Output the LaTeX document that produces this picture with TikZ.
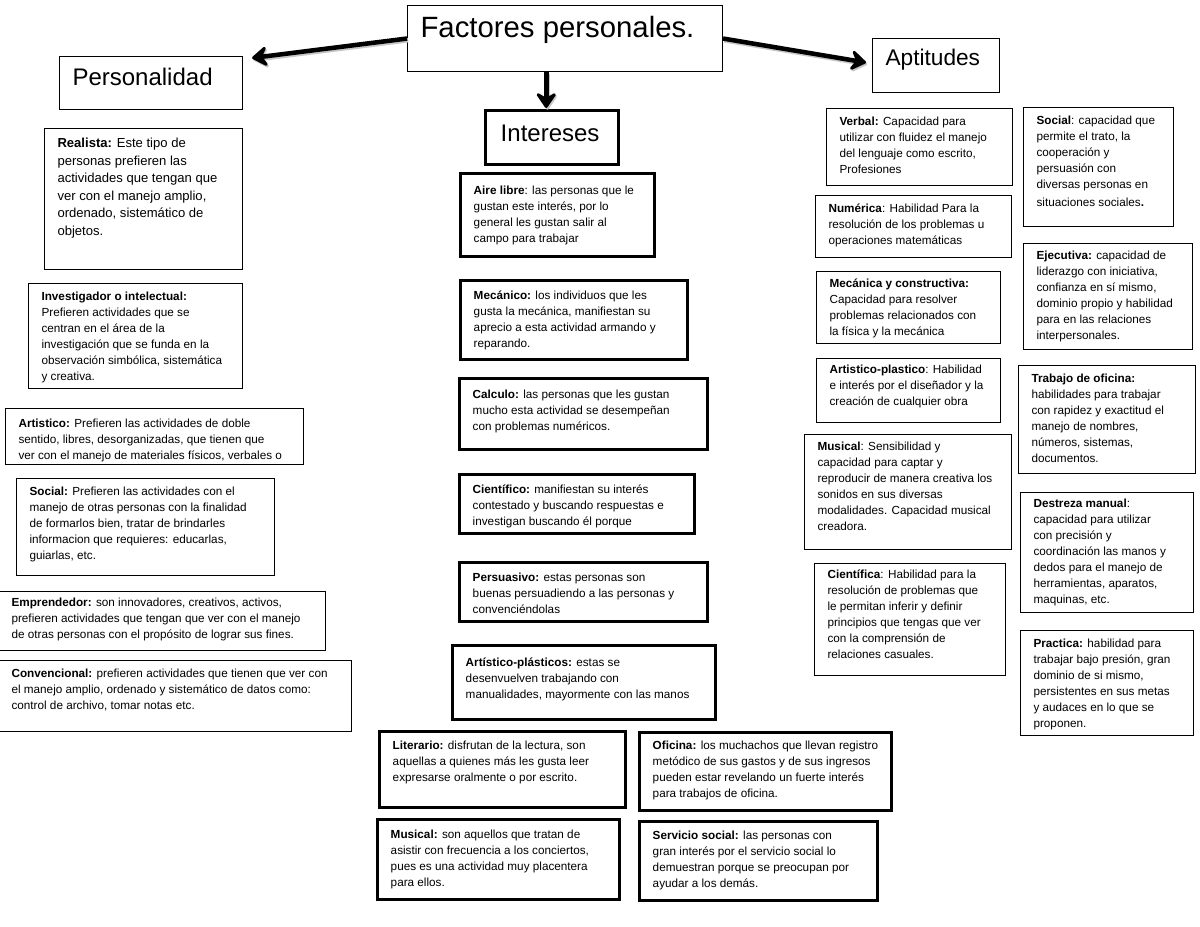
\documentclass[tikz,border=0pt]{standalone}
\usepackage{fontspec}
\setmainfont{Liberation Sans}
\usetikzlibrary{arrows.meta,calc}
\newlength\bxw \newlength\bxh \newlength\bxb
\newcommand\descfont{\fontsize{8.8}{12}\selectfont}
\newcommand\dbox[8][thinb]{%
  \pgfmathsetlength{\bxw}{#5*0.75pt}%
  \pgfmathsetlength{\bxh}{#6*0.75pt}%
  \pgfmathsetlength{\bxb}{#7*0.75pt}%
  \node[#1,anchor=north west,inner sep=0pt] (#2) at (#3,#4) {\begin{minipage}[c][\bxh][t]{\bxw}\rule{0pt}{\bxb}\hspace*{9.75pt}\begin{tabular}[t]{@{}l@{}}#8\end{tabular}\end{minipage}};}
\tikzset{
  thinb/.style={draw, line width=0.8pt, font=\descfont},
  thickb/.style={draw, line width=2.6pt, font=\descfont},
  realb/.style={thinb, font=\fontsize{9.8}{13.2}\selectfont},
  titleb/.style={draw, line width=0.8pt, font=\fontsize{#1}{#1}\selectfont},
  titlethick/.style={draw, line width=2.6pt, font=\fontsize{#1}{#1}\selectfont},
  bigarrow/.style={line width=3.4pt, -{Stealth[length=14pt,width=19pt,inset=5.5pt,round]},
    preaction={draw=black!22, line width=3.4pt, transform canvas={shift={(0.9pt,-1.3pt)}}}}
}
\begin{document}
\begin{tikzpicture}[x=0.75pt,y=-0.75pt]
\useasboundingbox (0,0) rectangle (1200,927);
% titles
\dbox[titleb=22]{fact}{407}{5}{315}{66}{32}{Factores personales.}
\dbox[titleb=18]{pers}{59}{56}{183}{53}{29}{Personalidad}
\dbox[titleb=17]{apt}{872}{38}{127}{54}{27}{Aptitudes}
\dbox[titlethick=18]{int}{484}{109}{133}{54}{31}{\hspace*{1.5pt}Intereses}
% arrows
\coordinate (pin) at ($(pers.north east)+(9,2)$);
\coordinate (ain) at ($(apt.west)+(-6,-3)$);
\coordinate (intin) at ($(int.north)+(-6,-1)$);
\draw[bigarrow] (fact.west) -- (pin);
\draw[bigarrow] (fact.east) -- (ain);
\draw[bigarrow] (intin |- fact.south) -- (intin);
% left column
\dbox[realb]{real}{44}{128}{198}{141}{19}{\textbf{Realista:} Este tipo de\\ personas prefieren las\\ actividades que tengan que\\ ver con el manejo amplio,\\ ordenado, sistemático de\\ objetos.}
\dbox{inv}{28}{283}{214}{105}{17}{\textbf{Investigador o intelectual:}\\ Prefieren actividades que se\\ centran en el área de la\\ investigación que se funda en la\\ observación simbólica, sistemática\\ y creativa.}
\dbox{art}{5}{408}{298}{56}{19}{\textbf{Artistico:} Prefieren las actividades de doble\\ sentido, libres, desorganizadas, que tienen que\\ ver con el manejo de materiales físicos, verbales o}
\dbox{soc}{16}{478}{258}{97}{17}{\textbf{Social:} Prefieren las actividades con el\\ manejo de otras personas con la finalidad\\ de formarlos bien, tratar de brindarles\\ informacion que requieres: educarlas,\\ guiarlas, etc.}
\dbox{emp}{-2}{591}{327}{59}{15}{\textbf{Emprendedor:} son innovadores, creativos, activos,\\ prefieren actividades que tengan que ver con el manejo\\ de otras personas con el propósito de lograr sus fines.}
\dbox{conv}{-2}{660}{353}{71}{17}{\textbf{Convencional:} prefieren actividades que tienen que ver con\\ el manejo amplio, ordenado y sistemático de datos como:\\ control de archivo, tomar notas etc.}
% middle column
\dbox[thickb]{aire}{459}{172}{194}{83}{21}{\textbf{Aire libre}: las personas que le\\ gustan este interés, por lo\\ general les gustan salir al\\ campo para trabajar}
\dbox[thickb]{mec}{459}{279}{227}{79}{19}{\textbf{Mecánico:} los individuos que les\\ gusta la mecánica, manifiestan su\\ aprecio a esta actividad armando y\\ reparando.}
\dbox[thickb]{calc}{458}{377}{248}{71}{20}{\textbf{Calculo:} las personas que les gustan\\ mucho esta actividad se desempeñan\\ con problemas numéricos.}
\dbox[thickb]{cien}{458}{473}{235}{59}{19}{\textbf{Científico:} manifiestan su interés\\ contestado y buscando respuestas e\\ investigan buscando él porque}
\dbox[thickb]{pers2}{458}{561}{248}{59}{19}{\textbf{Persuasivo:} estas personas son\\ buenas persuadiendo a las personas y\\ convenciéndolas}
\dbox[thickb]{artp}{451}{644}{263}{74}{21}{\textbf{Artístico-plásticos:} estas se\\ desenvuelven trabajando con\\ manualidades, mayormente con las manos}
\dbox[thickb]{lit}{378}{730}{246}{76}{18}{\textbf{Literario:} disfrutan de la lectura, son\\ aquellas a quienes más les gusta leer\\ expresarse oralmente o por escrito.}
\dbox[thickb]{ofi}{638}{731}{252}{78}{17}{\textbf{Oficina:} los muchachos que llevan registro\\ metódico de sus gastos y de sus ingresos\\ pueden estar revelando un fuerte interés\\ para trabajos de oficina.}
\dbox[thickb]{mus}{376}{818}{242}{80}{19}{\textbf{Musical:} son aquellos que tratan de\\ asistir con frecuencia a los conciertos,\\ pues es una actividad muy placentera\\ para ellos.}
\dbox[thickb]{serv}{638}{820}{238}{79}{18}{\textbf{Servicio social:} las personas con\\ gran interés por el servicio social lo\\ demuestran porque se preocupan por\\ ayudar a los demás.}
% right-middle column
\dbox{verb}{826}{108}{186}{77}{17}{\textbf{Verbal:} Capacidad para\\ utilizar con fluidez el manejo\\ del lenguaje como escrito,\\ Profesiones}
\dbox{num}{815}{195}{196}{62}{17}{\textbf{Numérica}: Habilidad Para la\\ resolución de los problemas u\\ operaciones matemáticas}
\dbox{mecc}{816}{271}{184}{72}{16}{\textbf{Mecánica y constructiva:}\\ Capacidad para resolver\\ problemas relacionados con\\ la física y la mecánica}
\dbox{artpl}{816}{358}{184}{64}{15}{\textbf{Artistico-plastico}: Habilidad\\ e interés por el diseñador y la\\ creación de cualquier obra}
\dbox{musa}{804}{434}{207}{115}{16}{\textbf{Musical}: Sensibilidad y\\ capacidad para captar y\\ reproducir de manera creativa los\\ sonidos en sus diversas\\ modalidades. Capacidad musical\\ creadora.}
\dbox{cienc}{814}{563}{191}{112}{15}{\textbf{Científica}: Habilidad para la\\ resolución de problemas que\\ le permitan inferir y definir\\ principios que tengas que ver\\ con la comprensión de\\ relaciones casuales.}
% right column
\dbox{soca}{1023}{107}{150}{119}{17}{\textbf{Social}: capacidad que\\ permite el trato, la\\ cooperación y\\ persuasión con\\ diversas personas en\\[1.5pt] situaciones sociales\textbf{.}}
\dbox{ejec}{1023}{243}{169}{106}{16}{\textbf{Ejecutiva:} capacidad de\\ liderazgo con iniciativa,\\ confianza en sí mismo,\\ dominio propio y habilidad\\ para en las relaciones\\ interpersonales.}
\dbox{trab}{1018}{365}{177}{108}{17}{\textbf{Trabajo de oficina:}\\ habilidades para trabajar\\ con rapidez y exactitud el\\ manejo de nombres,\\ números, sistemas,\\ documentos.}
\dbox{dest}{1020}{492}{173}{120}{15}{\textbf{Destreza manual}:\\ capacidad para utilizar\\ con precisión y\\ coordinación las manos y\\ dedos para el manejo de\\ herramientas, aparatos,\\ maquinas, etc.}
\dbox{prac}{1020}{630}{173}{105}{17}{\textbf{Practica:} habilidad para\\ trabajar bajo presión, gran\\ dominio de si mismo,\\ persistentes en sus metas\\ y audaces en lo que se\\ proponen.}
\end{tikzpicture}
\end{document}
